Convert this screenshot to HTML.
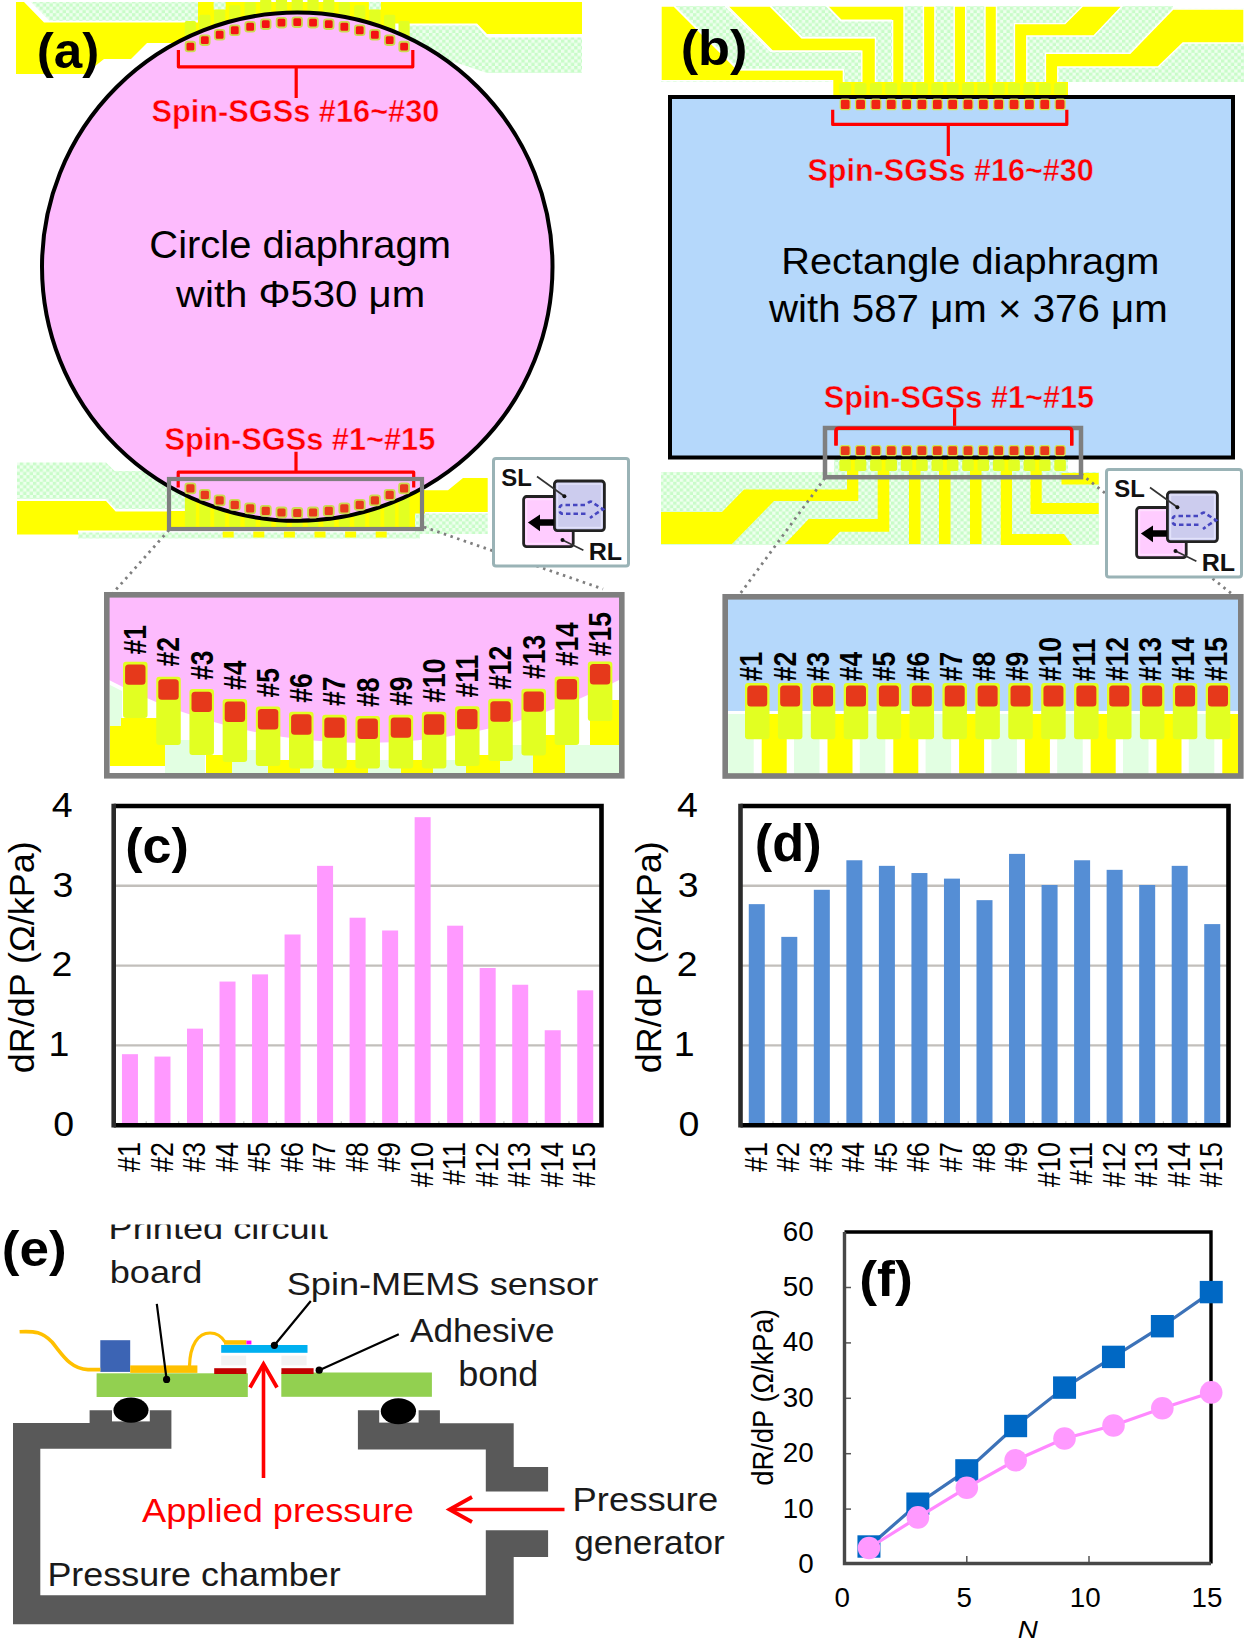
<!DOCTYPE html>
<html><head><meta charset="utf-8"><style>
html,body{margin:0;padding:0;background:#fff;overflow:hidden;width:1250px;height:1643px;}
svg{display:block;}
text{font-family:"Liberation Sans", sans-serif;}
</style></head><body>
<svg width="1250" height="1643" viewBox="0 0 1250 1643">
<rect width="1250" height="1643" fill="#fff"/>
<defs>
<pattern id="hatch" width="6.6" height="6.6" patternUnits="userSpaceOnUse"><rect width="6.6" height="6.6" fill="#EEFFEE"/><rect width="3.3" height="3.3" fill="#C8FCC8"/><rect x="3.3" y="3.3" width="3.3" height="3.3" fill="#C8FCC8"/></pattern>
</defs>
<polygon points="31.0,2.0 205.0,2.0 205.0,20.8 49.5,20.8" fill="url(#hatch)" />
<polygon points="16.0,2.0 24.0,2.0 44.0,22.5 186.0,22.5 186.0,43.0 147.0,43.0 131.0,59.0 104.0,59.0 85.0,74.0 16.0,74.0" fill="#FFFF00" />
<polygon points="198.0,2.0 392.0,2.0 392.0,45.0 186.0,45.0 186.0,22.5 198.0,22.5" fill="#FFFF00" />
<polygon points="392.0,2.0 582.0,2.0 582.0,34.0 487.0,34.0 477.0,23.4 392.0,23.4" fill="#FFFF00" />
<polygon points="405.0,25.5 476.0,25.5 487.0,37.5 582.0,37.5 582.0,73.0 487.0,73.0 456.0,62.4 405.0,62.4" fill="url(#hatch)" />
<polygon points="17.0,462.5 106.0,462.5 114.6,471.0 192.0,471.0 192.0,509.0 115.6,509.0 106.0,499.0 17.0,499.0" fill="url(#hatch)" />
<polygon points="17.0,501.0 106.0,501.0 115.6,511.4 185.0,511.4 185.0,530.6 78.0,530.6 78.0,534.5 17.0,534.5" fill="#FFFF00" />
<polygon points="78.0,532.5 420.0,532.5 420.0,538.5 78.0,538.5" fill="url(#hatch)" />
<rect x="222.70" y="531.50" width="11.00" height="6.00" fill="#FFFF00" />
<rect x="253.30" y="531.50" width="11.00" height="6.00" fill="#FFFF00" />
<rect x="283.90" y="531.50" width="11.00" height="6.00" fill="#FFFF00" />
<rect x="314.50" y="531.50" width="11.00" height="6.00" fill="#FFFF00" />
<rect x="345.10" y="531.50" width="11.00" height="6.00" fill="#FFFF00" />
<rect x="375.70" y="531.50" width="11.00" height="6.00" fill="#FFFF00" />
<polygon points="192.0,490.0 425.0,490.0 425.0,531.0 170.0,531.0 170.0,511.0 192.0,511.0" fill="#FFFF00" />
<polygon points="415.0,490.3 448.0,490.3 463.0,478.0 487.7,478.0 487.7,512.0 415.0,512.0" fill="#FFFF00" />
<polygon points="415.0,513.5 487.7,513.5 487.7,534.0 415.0,534.0" fill="url(#hatch)" />
<rect x="184.80" y="20.93" width="11.2" height="18.00" rx="1.5" fill="#E2FF22"/>
<rect x="184.90" y="488.45" width="11" height="38.55" rx="1.5" fill="#E2FF22"/>
<rect x="198.83" y="2" width="12" height="12.84" fill="#FFFF00"/>
<rect x="199.23" y="14.84" width="11.2" height="18.00" rx="1.5" fill="#E2FF22"/>
<rect x="199.33" y="494.88" width="11" height="32.12" rx="1.5" fill="#E2FF22"/>
<rect x="213.64" y="2" width="12" height="7.63" fill="url(#hatch)"/>
<rect x="214.04" y="9.63" width="11.2" height="18.00" rx="1.5" fill="#E2FF22"/>
<rect x="214.14" y="500.37" width="11" height="26.63" rx="1.5" fill="#E2FF22"/>
<rect x="228.77" y="2" width="12" height="3.33" fill="#FFFF00"/>
<rect x="229.17" y="5.33" width="11.2" height="18.00" rx="1.5" fill="#E2FF22"/>
<rect x="229.27" y="504.89" width="11" height="22.11" rx="1.5" fill="#E2FF22"/>
<rect x="244.17" y="2" width="12" height="-0.04" fill="url(#hatch)"/>
<rect x="244.57" y="1.96" width="11.2" height="18.00" rx="1.5" fill="#E2FF22"/>
<rect x="244.67" y="508.43" width="11" height="18.57" rx="1.5" fill="#E2FF22"/>
<rect x="259.75" y="2" width="12" height="-2.46" fill="#FFFF00"/>
<rect x="260.15" y="-0.46" width="11.2" height="18.00" rx="1.5" fill="#E2FF22"/>
<rect x="260.25" y="510.96" width="11" height="16.04" rx="1.5" fill="#E2FF22"/>
<rect x="275.47" y="2" width="12" height="-3.91" fill="url(#hatch)"/>
<rect x="275.87" y="-1.91" width="11.2" height="18.00" rx="1.5" fill="#E2FF22"/>
<rect x="275.97" y="512.49" width="11" height="14.51" rx="1.5" fill="#E2FF22"/>
<rect x="291.25" y="2" width="12" height="-4.40" fill="#FFFF00"/>
<rect x="291.65" y="-2.40" width="11.2" height="18.00" rx="1.5" fill="#E2FF22"/>
<rect x="291.75" y="513.00" width="11" height="14.00" rx="1.5" fill="#E2FF22"/>
<rect x="307.03" y="2" width="12" height="-3.91" fill="url(#hatch)"/>
<rect x="307.43" y="-1.91" width="11.2" height="18.00" rx="1.5" fill="#E2FF22"/>
<rect x="307.53" y="512.49" width="11" height="14.51" rx="1.5" fill="#E2FF22"/>
<rect x="322.75" y="2" width="12" height="-2.46" fill="#FFFF00"/>
<rect x="323.15" y="-0.46" width="11.2" height="18.00" rx="1.5" fill="#E2FF22"/>
<rect x="323.25" y="510.96" width="11" height="16.04" rx="1.5" fill="#E2FF22"/>
<rect x="338.33" y="2" width="12" height="-0.04" fill="url(#hatch)"/>
<rect x="338.73" y="1.96" width="11.2" height="18.00" rx="1.5" fill="#E2FF22"/>
<rect x="338.83" y="508.43" width="11" height="18.57" rx="1.5" fill="#E2FF22"/>
<rect x="353.73" y="2" width="12" height="3.33" fill="#FFFF00"/>
<rect x="354.13" y="5.33" width="11.2" height="18.00" rx="1.5" fill="#E2FF22"/>
<rect x="354.23" y="504.89" width="11" height="22.11" rx="1.5" fill="#E2FF22"/>
<rect x="368.86" y="2" width="12" height="7.63" fill="url(#hatch)"/>
<rect x="369.26" y="9.63" width="11.2" height="18.00" rx="1.5" fill="#E2FF22"/>
<rect x="369.36" y="500.37" width="11" height="26.63" rx="1.5" fill="#E2FF22"/>
<rect x="383.67" y="2" width="12" height="12.84" fill="#FFFF00"/>
<rect x="384.07" y="14.84" width="11.2" height="18.00" rx="1.5" fill="#E2FF22"/>
<rect x="384.17" y="494.88" width="11" height="32.12" rx="1.5" fill="#E2FF22"/>
<rect x="398.50" y="20.93" width="11.2" height="18.00" rx="1.5" fill="#E2FF22"/>
<rect x="398.60" y="488.45" width="11" height="38.55" rx="1.5" fill="#E2FF22"/>
<ellipse cx="297.25" cy="266.7" rx="255.25" ry="254.1" fill="#FDBBFD" stroke="#000" stroke-width="4.0"/>
<rect x="185.60" y="41.77" width="9.6" height="9.6" rx="2.4" fill="#F41212" stroke="#CCDC50" stroke-width="1.8"/>
<rect x="185.40" y="483.45" width="10" height="10" rx="2.4" fill="#E83A1C" stroke="#CCDC50" stroke-width="1.8"/>
<rect x="200.03" y="35.39" width="9.6" height="9.6" rx="2.4" fill="#F41212" stroke="#CCDC50" stroke-width="1.8"/>
<rect x="199.83" y="489.88" width="10" height="10" rx="2.4" fill="#E83A1C" stroke="#CCDC50" stroke-width="1.8"/>
<rect x="214.84" y="29.94" width="9.6" height="9.6" rx="2.4" fill="#F41212" stroke="#CCDC50" stroke-width="1.8"/>
<rect x="214.64" y="495.37" width="10" height="10" rx="2.4" fill="#E83A1C" stroke="#CCDC50" stroke-width="1.8"/>
<rect x="229.97" y="25.45" width="9.6" height="9.6" rx="2.4" fill="#F41212" stroke="#CCDC50" stroke-width="1.8"/>
<rect x="229.77" y="499.89" width="10" height="10" rx="2.4" fill="#E83A1C" stroke="#CCDC50" stroke-width="1.8"/>
<rect x="245.37" y="21.94" width="9.6" height="9.6" rx="2.4" fill="#F41212" stroke="#CCDC50" stroke-width="1.8"/>
<rect x="245.17" y="503.43" width="10" height="10" rx="2.4" fill="#E83A1C" stroke="#CCDC50" stroke-width="1.8"/>
<rect x="260.95" y="19.42" width="9.6" height="9.6" rx="2.4" fill="#F41212" stroke="#CCDC50" stroke-width="1.8"/>
<rect x="260.75" y="505.96" width="10" height="10" rx="2.4" fill="#E83A1C" stroke="#CCDC50" stroke-width="1.8"/>
<rect x="276.67" y="17.91" width="9.6" height="9.6" rx="2.4" fill="#F41212" stroke="#CCDC50" stroke-width="1.8"/>
<rect x="276.47" y="507.49" width="10" height="10" rx="2.4" fill="#E83A1C" stroke="#CCDC50" stroke-width="1.8"/>
<rect x="292.45" y="17.40" width="9.6" height="9.6" rx="2.4" fill="#F41212" stroke="#CCDC50" stroke-width="1.8"/>
<rect x="292.25" y="508.00" width="10" height="10" rx="2.4" fill="#E83A1C" stroke="#CCDC50" stroke-width="1.8"/>
<rect x="308.23" y="17.91" width="9.6" height="9.6" rx="2.4" fill="#F41212" stroke="#CCDC50" stroke-width="1.8"/>
<rect x="308.03" y="507.49" width="10" height="10" rx="2.4" fill="#E83A1C" stroke="#CCDC50" stroke-width="1.8"/>
<rect x="323.95" y="19.42" width="9.6" height="9.6" rx="2.4" fill="#F41212" stroke="#CCDC50" stroke-width="1.8"/>
<rect x="323.75" y="505.96" width="10" height="10" rx="2.4" fill="#E83A1C" stroke="#CCDC50" stroke-width="1.8"/>
<rect x="339.53" y="21.94" width="9.6" height="9.6" rx="2.4" fill="#F41212" stroke="#CCDC50" stroke-width="1.8"/>
<rect x="339.33" y="503.43" width="10" height="10" rx="2.4" fill="#E83A1C" stroke="#CCDC50" stroke-width="1.8"/>
<rect x="354.93" y="25.45" width="9.6" height="9.6" rx="2.4" fill="#F41212" stroke="#CCDC50" stroke-width="1.8"/>
<rect x="354.73" y="499.89" width="10" height="10" rx="2.4" fill="#E83A1C" stroke="#CCDC50" stroke-width="1.8"/>
<rect x="370.06" y="29.94" width="9.6" height="9.6" rx="2.4" fill="#F41212" stroke="#CCDC50" stroke-width="1.8"/>
<rect x="369.86" y="495.37" width="10" height="10" rx="2.4" fill="#E83A1C" stroke="#CCDC50" stroke-width="1.8"/>
<rect x="384.87" y="35.39" width="9.6" height="9.6" rx="2.4" fill="#F41212" stroke="#CCDC50" stroke-width="1.8"/>
<rect x="384.67" y="489.88" width="10" height="10" rx="2.4" fill="#E83A1C" stroke="#CCDC50" stroke-width="1.8"/>
<rect x="399.30" y="41.77" width="9.6" height="9.6" rx="2.4" fill="#F41212" stroke="#CCDC50" stroke-width="1.8"/>
<rect x="399.10" y="483.45" width="10" height="10" rx="2.4" fill="#E83A1C" stroke="#CCDC50" stroke-width="1.8"/>
<path d="M178.4,50 L178.4,66.8 L412.8,66.8 L412.8,50 M296.2,66.8 L296.2,98" fill="none" stroke="#FF0000" stroke-width="3.2" stroke-linejoin="round"/>
<path d="M178.2,487.5 L178.2,472.2 L413.7,472.2 L413.7,487.5 M296,472.2 L296,451.7" fill="none" stroke="#FF0000" stroke-width="3.2" stroke-linejoin="round"/>
<text transform="translate(151.44,121.69) scale(0.9611,0.9867)" text-anchor="start" font-size="32" font-weight="bold" font-style="normal" fill="#FF0000" stroke="#FDBBFD" stroke-width="0.5">Spin-SGSs #16~#30</text>
<text transform="translate(149.37,257.82) scale(1.0645,1.0229)" text-anchor="start" font-size="37.5" font-weight="normal" font-style="normal" fill="#000" >Circle diaphragm</text>
<text transform="translate(176.10,306.64) scale(1.0696,1.0088)" text-anchor="start" font-size="37.5" font-weight="normal" font-style="normal" fill="#000" >with &#934;530 &#956;m</text>
<text transform="translate(164.44,450.33) scale(0.9614,0.9667)" text-anchor="start" font-size="32" font-weight="bold" font-style="normal" fill="#FF0000" stroke="#FDBBFD" stroke-width="0.5">Spin-SGSs #1~#15</text>
<text transform="translate(36.83,68.05) scale(1.0232,1.0152)" text-anchor="start" font-size="50" font-weight="bold" font-style="normal" fill="#000" >(a)</text>
<rect x="169" y="479" width="253" height="50" fill="none" stroke="#7F7F7F" stroke-width="4.2"/>
<path d="M169,530 L113,593 M424,527 L603,589" stroke="#7F7F7F" stroke-width="2.8" stroke-dasharray="2.5 4.5" fill="none"/>
<g transform="translate(492,457)">
<rect x="1.5" y="1.5" width="135" height="107.5" rx="2.5" fill="#fff" stroke="#9AB3B6" stroke-width="3"/>
<rect x="31.6" y="39.5" width="49.6" height="50.1" rx="3" fill="#FFCCFF" stroke="#222" stroke-width="2.8"/>
<rect x="34.5" y="42.5" width="44" height="44" fill="none" stroke="#FFE0FF" stroke-width="1.4"/>
<rect x="62.4" y="24" width="50" height="49.6" rx="3" fill="#CCCCEE" stroke="#222" stroke-width="2.8"/>
<rect x="65.5" y="27" width="44" height="43.5" fill="none" stroke="#E2E2FA" stroke-width="1.4"/>
<path d="M35.9,65.5 L48,57.5 L48,62.3 L61.8,62.3 L61.8,68.7 L48,68.7 L48,74.2 Z" fill="#000"/>
<path d="M93,48 L71,48 Q67.5,48 67.5,52.4 Q67.5,56.8 71,56.8 L95,56.8" fill="none" stroke="#4646C0" stroke-width="2.6" stroke-dasharray="4.5 3"/>
<path d="M96,46 Q99,43 102,46.5 L111,52.2 L103.5,57 L98,61" fill="none" stroke="#4646C0" stroke-width="2.6" stroke-dasharray="4.5 3"/>
<path d="M45,19.5 L72.4,39.3" stroke="#333" stroke-width="1.7"/><circle cx="72.4" cy="39.3" r="2" fill="#111"/>
<path d="M70.5,83 L91.4,93.2" stroke="#333" stroke-width="1.7"/><circle cx="70.5" cy="83" r="2" fill="#111"/>
<text transform="translate(9.20,28.70) scale(0.9966,1.0235)" text-anchor="start" font-size="24" font-weight="bold" font-style="normal" fill="#111" >SL</text>
<text transform="translate(96.72,103.00) scale(1.0414,1.0059)" text-anchor="start" font-size="24" font-weight="bold" font-style="normal" fill="#111" >RL</text>
</g>
<clipPath id="zA"><rect x="106.5" y="594.5" width="515.5" height="181.5"/></clipPath>
<g clip-path="url(#zA)">
<rect x="104.00" y="690.00" width="522.00" height="90.00" fill="#fff" />
<rect x="110.00" y="726.00" width="55.00" height="40.00" fill="#FFFF00" />
<rect x="110.00" y="680.00" width="12.00" height="46.00" fill="#E2FFE2" />
<rect x="165.00" y="740.00" width="40.00" height="35.00" fill="#E2FFE2" />
<rect x="206.00" y="755.00" width="26.00" height="20.00" fill="#FFFF00" />
<rect x="232.00" y="750.00" width="36.00" height="25.00" fill="#E2FFE2" />
<rect x="268.00" y="760.00" width="32.00" height="15.00" fill="#FFFF00" />
<rect x="300.00" y="760.00" width="34.00" height="15.00" fill="#E2FFE2" />
<rect x="334.00" y="760.00" width="34.00" height="15.00" fill="#FFFF00" />
<rect x="368.00" y="760.00" width="33.00" height="15.00" fill="#E2FFE2" />
<rect x="401.00" y="760.00" width="32.00" height="15.00" fill="#FFFF00" />
<rect x="433.00" y="760.00" width="33.00" height="15.00" fill="#E2FFE2" />
<rect x="466.00" y="755.00" width="34.00" height="20.00" fill="#FFFF00" />
<rect x="500.00" y="745.00" width="33.00" height="30.00" fill="#E2FFE2" />
<rect x="533.00" y="735.00" width="34.00" height="40.00" fill="#FFFF00" />
<rect x="565.00" y="745.00" width="55.00" height="30.00" fill="#E2FFE2" />
<rect x="590.00" y="700.00" width="30.00" height="45.00" fill="#FFFF00" />
<rect x="121.00" y="718.00" width="45.00" height="10.00" fill="#FFFF00" />
<circle cx="364" cy="195" r="552" fill="#fff"/>
<circle cx="364" cy="195" r="548" fill="#FDBBFD"/>
<rect x="123.05" y="661.81" width="24.5" height="56.19" rx="3" fill="#E2FF22"/>
<rect x="125.10" y="664.41" width="20.4" height="20.4" rx="3.5" fill="#E6391B"/>
<text transform="translate(146.25,654.53) scale(1.2167,1.0190) rotate(-90)" text-anchor="start" font-size="26" font-weight="bold" font-style="normal" fill="#000" >#1</text>
<rect x="156.25" y="676.76" width="24.5" height="68.24" rx="3" fill="#E2FF22"/>
<rect x="158.30" y="679.36" width="20.4" height="20.4" rx="3.5" fill="#E6391B"/>
<text transform="translate(179.45,666.58) scale(1.2167,1.0190) rotate(-90)" text-anchor="start" font-size="26" font-weight="bold" font-style="normal" fill="#000" >#2</text>
<rect x="189.45" y="689.07" width="24.5" height="65.93" rx="3" fill="#E2FF22"/>
<rect x="191.50" y="691.67" width="20.4" height="20.4" rx="3.5" fill="#E6391B"/>
<text transform="translate(212.65,679.98) scale(1.2167,1.0190) rotate(-90)" text-anchor="start" font-size="26" font-weight="bold" font-style="normal" fill="#000" >#3</text>
<rect x="222.65" y="698.90" width="24.5" height="63.10" rx="3" fill="#E2FF22"/>
<rect x="224.70" y="701.50" width="20.4" height="20.4" rx="3.5" fill="#E6391B"/>
<text transform="translate(245.85,690.02) scale(1.2167,1.0190) rotate(-90)" text-anchor="start" font-size="26" font-weight="bold" font-style="normal" fill="#000" >#4</text>
<rect x="255.85" y="706.42" width="24.5" height="59.58" rx="3" fill="#E2FF22"/>
<rect x="257.90" y="709.02" width="20.4" height="20.4" rx="3.5" fill="#E6391B"/>
<text transform="translate(279.05,697.54) scale(1.2167,1.0190) rotate(-90)" text-anchor="start" font-size="26" font-weight="bold" font-style="normal" fill="#000" >#5</text>
<rect x="289.05" y="711.72" width="24.5" height="56.78" rx="3" fill="#E2FF22"/>
<rect x="291.10" y="714.32" width="20.4" height="20.4" rx="3.5" fill="#E6391B"/>
<text transform="translate(312.25,702.84) scale(1.2167,1.0190) rotate(-90)" text-anchor="start" font-size="26" font-weight="bold" font-style="normal" fill="#000" >#6</text>
<rect x="322.25" y="714.87" width="24.5" height="53.63" rx="3" fill="#E2FF22"/>
<rect x="324.30" y="717.47" width="20.4" height="20.4" rx="3.5" fill="#E6391B"/>
<text transform="translate(345.45,705.99) scale(1.2167,1.0190) rotate(-90)" text-anchor="start" font-size="26" font-weight="bold" font-style="normal" fill="#000" >#7</text>
<rect x="355.45" y="715.90" width="24.5" height="52.60" rx="3" fill="#E2FF22"/>
<rect x="357.50" y="718.50" width="20.4" height="20.4" rx="3.5" fill="#E6391B"/>
<text transform="translate(378.65,707.02) scale(1.2167,1.0190) rotate(-90)" text-anchor="start" font-size="26" font-weight="bold" font-style="normal" fill="#000" >#8</text>
<rect x="388.65" y="714.83" width="24.5" height="53.67" rx="3" fill="#E2FF22"/>
<rect x="390.70" y="717.43" width="20.4" height="20.4" rx="3.5" fill="#E6391B"/>
<text transform="translate(411.85,705.95) scale(1.2167,1.0190) rotate(-90)" text-anchor="start" font-size="26" font-weight="bold" font-style="normal" fill="#000" >#9</text>
<rect x="421.85" y="711.65" width="24.5" height="56.85" rx="3" fill="#E2FF22"/>
<rect x="423.90" y="714.25" width="20.4" height="20.4" rx="3.5" fill="#E6391B"/>
<text transform="translate(445.05,702.76) scale(1.2167,1.0190) rotate(-90)" text-anchor="start" font-size="26" font-weight="bold" font-style="normal" fill="#000" >#10</text>
<rect x="455.05" y="706.31" width="24.5" height="59.69" rx="3" fill="#E2FF22"/>
<rect x="457.10" y="708.91" width="20.4" height="20.4" rx="3.5" fill="#E6391B"/>
<text transform="translate(478.25,697.43) scale(1.2167,1.0190) rotate(-90)" text-anchor="start" font-size="26" font-weight="bold" font-style="normal" fill="#000" >#11</text>
<rect x="488.25" y="698.75" width="24.5" height="62.25" rx="3" fill="#E2FF22"/>
<rect x="490.30" y="701.35" width="20.4" height="20.4" rx="3.5" fill="#E6391B"/>
<text transform="translate(511.45,689.87) scale(1.2167,1.0190) rotate(-90)" text-anchor="start" font-size="26" font-weight="bold" font-style="normal" fill="#000" >#12</text>
<rect x="521.45" y="688.87" width="24.5" height="66.63" rx="3" fill="#E2FF22"/>
<rect x="523.50" y="691.47" width="20.4" height="20.4" rx="3.5" fill="#E6391B"/>
<text transform="translate(544.65,678.98) scale(1.2167,1.0190) rotate(-90)" text-anchor="start" font-size="26" font-weight="bold" font-style="normal" fill="#000" >#13</text>
<rect x="554.65" y="676.52" width="24.5" height="68.48" rx="3" fill="#E2FF22"/>
<rect x="556.70" y="679.12" width="20.4" height="20.4" rx="3.5" fill="#E6391B"/>
<text transform="translate(577.85,666.34) scale(1.2167,1.0190) rotate(-90)" text-anchor="start" font-size="26" font-weight="bold" font-style="normal" fill="#000" >#14</text>
<rect x="587.85" y="661.51" width="24.5" height="59.49" rx="3" fill="#E2FF22"/>
<rect x="589.90" y="664.11" width="20.4" height="20.4" rx="3.5" fill="#E6391B"/>
<text transform="translate(611.05,656.13) scale(1.2167,1.0190) rotate(-90)" text-anchor="start" font-size="26" font-weight="bold" font-style="normal" fill="#000" >#15</text>
</g>
<rect x="106.8" y="594.8" width="515" height="181" fill="none" stroke="#7F7F7F" stroke-width="5.6"/>
<polygon points="661.0,6.0 1244.0,6.0 1244.0,82.0 661.0,82.0" fill="url(#hatch)" />
<polygon points="1173.0,6.0 1244.0,6.0 1244.0,8.5 1173.0,8.5" fill="#fff" />
<polygon points="661.0,6.0 674.2,6.0 737.8,69.6 843.4,69.6 843.4,96.0 832.6,96.0 832.6,80.8 661.0,80.8" fill="#FFFF00" stroke="#fff" stroke-width="1.4"/>
<polygon points="727.4,6.0 770.2,6.0 801.8,37.6 875.5,37.6 875.5,83.0 861.8,83.0 861.8,51.2 772.6,51.2" fill="#FFFF00" stroke="#fff" stroke-width="1.4"/>
<polygon points="826.6,6.0 904.0,6.0 904.0,83.0 892.6,83.0 892.6,20.8 840.6,20.8" fill="#FFFF00" stroke="#fff" stroke-width="1.4"/>
<polygon points="923.4,6.0 934.9,6.0 934.9,83.0 923.4,83.0" fill="#FFFF00" stroke="#fff" stroke-width="1.4"/>
<polygon points="954.2,6.0 965.7,6.0 965.7,83.0 954.2,83.0" fill="#FFFF00" stroke="#fff" stroke-width="1.4"/>
<polygon points="985.0,6.0 996.5,6.0 996.5,83.0 985.0,83.0" fill="#FFFF00" stroke="#fff" stroke-width="1.4"/>
<polygon points="1014.4,84.0 1014.4,23.6 1065.0,23.6 1082.6,6.0 1122.3,6.0 1093.8,36.0 1026.8,36.0 1026.8,84.0" fill="#FFFF00" stroke="#fff" stroke-width="1.4"/>
<polygon points="1045.4,84.0 1045.4,53.3 1130.0,53.3 1173.0,9.0 1244.0,9.0 1244.0,43.0 1183.0,43.0 1158.0,67.0 1057.8,67.0 1057.8,84.0" fill="#FFFF00" stroke="#fff" stroke-width="1.4"/>
<path d="M674.2,6 L737.8,69.6 L843.4,69.6 M725.4,6 L770.6,51.2 L861.4,51.2 M770.2,6 L801.8,37.6 L875.5,37.6 M827,6 L841,20.2 L891.8,20.2" fill="none" stroke="#fff" stroke-width="1.6"/>
<polygon points="661.0,472.0 1099.0,472.0 1099.0,545.0 661.0,545.0" fill="url(#hatch)" />
<rect x="834.00" y="458.00" width="234.00" height="17.00" fill="url(#hatch)" />
<polygon points="661.0,512.0 722.0,512.0 744.0,489.6 847.0,489.6 847.0,459.0 858.3,459.0 858.3,501.0 774.0,501.0 732.0,544.0 661.0,544.0" fill="#FFFF00" />
<polygon points="877.7,459.0 889.3,459.0 889.3,531.8 840.0,531.8 828.0,544.0 785.0,544.0 808.7,519.0 877.7,519.0" fill="#FFFF00" />
<polygon points="909.0,459.0 920.5,459.0 920.5,544.0 909.0,544.0" fill="#FFFF00" />
<polygon points="939.0,459.0 950.5,459.0 950.5,544.0 939.0,544.0" fill="#FFFF00" />
<polygon points="970.0,459.0 981.5,459.0 981.5,544.0 970.0,544.0" fill="#FFFF00" />
<polygon points="1000.8,459.0 1012.0,459.0 1012.0,534.0 1064.0,534.0 1072.0,545.0 1000.8,545.0" fill="#FFFF00" />
<polygon points="1030.5,459.0 1041.7,459.0 1041.7,503.0 1098.7,503.0 1098.7,514.0 1030.5,514.0" fill="#FFFF00" />
<polygon points="1061.5,473.0 1098.7,473.0 1098.7,484.4 1061.5,484.4" fill="#FFFF00" />
<polygon points="661.0,472.0 830.0,472.0 830.0,476.0 661.0,476.0" fill="url(#hatch)" />
<rect x="670" y="97" width="563" height="360.5" fill="#B5D8FB" stroke="#000" stroke-width="4"/>
<rect x="834.00" y="82.00" width="234.00" height="13.00" fill="#FFFF00" />
<rect x="839.20" y="83" width="12" height="11.6" rx="1.8" fill="#E2FF22"/>
<rect x="840.20" y="99.2" width="10" height="10.4" rx="2.2" fill="#F02414" stroke="#D4E850" stroke-width="1.2"/>
<rect x="839.40" y="459.6" width="11.6" height="11.4" rx="1.8" fill="#E2FF22"/>
<rect x="840.20" y="445.6" width="10" height="10" rx="2.2" fill="#E83A1C" stroke="#D4E850" stroke-width="1.2"/>
<rect x="854.55" y="83" width="12" height="11.6" rx="1.8" fill="#E2FF22"/>
<rect x="855.55" y="99.2" width="10" height="10.4" rx="2.2" fill="#F02414" stroke="#D4E850" stroke-width="1.2"/>
<rect x="854.75" y="459.6" width="11.6" height="11.4" rx="1.8" fill="#E2FF22"/>
<rect x="855.55" y="445.6" width="10" height="10" rx="2.2" fill="#E83A1C" stroke="#D4E850" stroke-width="1.2"/>
<rect x="869.90" y="83" width="12" height="11.6" rx="1.8" fill="#E2FF22"/>
<rect x="870.90" y="99.2" width="10" height="10.4" rx="2.2" fill="#F02414" stroke="#D4E850" stroke-width="1.2"/>
<rect x="870.10" y="459.6" width="11.6" height="11.4" rx="1.8" fill="#E2FF22"/>
<rect x="870.90" y="445.6" width="10" height="10" rx="2.2" fill="#E83A1C" stroke="#D4E850" stroke-width="1.2"/>
<rect x="885.25" y="83" width="12" height="11.6" rx="1.8" fill="#E2FF22"/>
<rect x="886.25" y="99.2" width="10" height="10.4" rx="2.2" fill="#F02414" stroke="#D4E850" stroke-width="1.2"/>
<rect x="885.45" y="459.6" width="11.6" height="11.4" rx="1.8" fill="#E2FF22"/>
<rect x="886.25" y="445.6" width="10" height="10" rx="2.2" fill="#E83A1C" stroke="#D4E850" stroke-width="1.2"/>
<rect x="900.60" y="83" width="12" height="11.6" rx="1.8" fill="#E2FF22"/>
<rect x="901.60" y="99.2" width="10" height="10.4" rx="2.2" fill="#F02414" stroke="#D4E850" stroke-width="1.2"/>
<rect x="900.80" y="459.6" width="11.6" height="11.4" rx="1.8" fill="#E2FF22"/>
<rect x="901.60" y="445.6" width="10" height="10" rx="2.2" fill="#E83A1C" stroke="#D4E850" stroke-width="1.2"/>
<rect x="915.95" y="83" width="12" height="11.6" rx="1.8" fill="#E2FF22"/>
<rect x="916.95" y="99.2" width="10" height="10.4" rx="2.2" fill="#F02414" stroke="#D4E850" stroke-width="1.2"/>
<rect x="916.15" y="459.6" width="11.6" height="11.4" rx="1.8" fill="#E2FF22"/>
<rect x="916.95" y="445.6" width="10" height="10" rx="2.2" fill="#E83A1C" stroke="#D4E850" stroke-width="1.2"/>
<rect x="931.30" y="83" width="12" height="11.6" rx="1.8" fill="#E2FF22"/>
<rect x="932.30" y="99.2" width="10" height="10.4" rx="2.2" fill="#F02414" stroke="#D4E850" stroke-width="1.2"/>
<rect x="931.50" y="459.6" width="11.6" height="11.4" rx="1.8" fill="#E2FF22"/>
<rect x="932.30" y="445.6" width="10" height="10" rx="2.2" fill="#E83A1C" stroke="#D4E850" stroke-width="1.2"/>
<rect x="946.65" y="83" width="12" height="11.6" rx="1.8" fill="#E2FF22"/>
<rect x="947.65" y="99.2" width="10" height="10.4" rx="2.2" fill="#F02414" stroke="#D4E850" stroke-width="1.2"/>
<rect x="946.85" y="459.6" width="11.6" height="11.4" rx="1.8" fill="#E2FF22"/>
<rect x="947.65" y="445.6" width="10" height="10" rx="2.2" fill="#E83A1C" stroke="#D4E850" stroke-width="1.2"/>
<rect x="962.00" y="83" width="12" height="11.6" rx="1.8" fill="#E2FF22"/>
<rect x="963.00" y="99.2" width="10" height="10.4" rx="2.2" fill="#F02414" stroke="#D4E850" stroke-width="1.2"/>
<rect x="962.20" y="459.6" width="11.6" height="11.4" rx="1.8" fill="#E2FF22"/>
<rect x="963.00" y="445.6" width="10" height="10" rx="2.2" fill="#E83A1C" stroke="#D4E850" stroke-width="1.2"/>
<rect x="977.35" y="83" width="12" height="11.6" rx="1.8" fill="#E2FF22"/>
<rect x="978.35" y="99.2" width="10" height="10.4" rx="2.2" fill="#F02414" stroke="#D4E850" stroke-width="1.2"/>
<rect x="977.55" y="459.6" width="11.6" height="11.4" rx="1.8" fill="#E2FF22"/>
<rect x="978.35" y="445.6" width="10" height="10" rx="2.2" fill="#E83A1C" stroke="#D4E850" stroke-width="1.2"/>
<rect x="992.70" y="83" width="12" height="11.6" rx="1.8" fill="#E2FF22"/>
<rect x="993.70" y="99.2" width="10" height="10.4" rx="2.2" fill="#F02414" stroke="#D4E850" stroke-width="1.2"/>
<rect x="992.90" y="459.6" width="11.6" height="11.4" rx="1.8" fill="#E2FF22"/>
<rect x="993.70" y="445.6" width="10" height="10" rx="2.2" fill="#E83A1C" stroke="#D4E850" stroke-width="1.2"/>
<rect x="1008.05" y="83" width="12" height="11.6" rx="1.8" fill="#E2FF22"/>
<rect x="1009.05" y="99.2" width="10" height="10.4" rx="2.2" fill="#F02414" stroke="#D4E850" stroke-width="1.2"/>
<rect x="1008.25" y="459.6" width="11.6" height="11.4" rx="1.8" fill="#E2FF22"/>
<rect x="1009.05" y="445.6" width="10" height="10" rx="2.2" fill="#E83A1C" stroke="#D4E850" stroke-width="1.2"/>
<rect x="1023.40" y="83" width="12" height="11.6" rx="1.8" fill="#E2FF22"/>
<rect x="1024.40" y="99.2" width="10" height="10.4" rx="2.2" fill="#F02414" stroke="#D4E850" stroke-width="1.2"/>
<rect x="1023.60" y="459.6" width="11.6" height="11.4" rx="1.8" fill="#E2FF22"/>
<rect x="1024.40" y="445.6" width="10" height="10" rx="2.2" fill="#E83A1C" stroke="#D4E850" stroke-width="1.2"/>
<rect x="1038.75" y="83" width="12" height="11.6" rx="1.8" fill="#E2FF22"/>
<rect x="1039.75" y="99.2" width="10" height="10.4" rx="2.2" fill="#F02414" stroke="#D4E850" stroke-width="1.2"/>
<rect x="1038.95" y="459.6" width="11.6" height="11.4" rx="1.8" fill="#E2FF22"/>
<rect x="1039.75" y="445.6" width="10" height="10" rx="2.2" fill="#E83A1C" stroke="#D4E850" stroke-width="1.2"/>
<rect x="1054.10" y="83" width="12" height="11.6" rx="1.8" fill="#E2FF22"/>
<rect x="1055.10" y="99.2" width="10" height="10.4" rx="2.2" fill="#F02414" stroke="#D4E850" stroke-width="1.2"/>
<rect x="1054.30" y="459.6" width="11.6" height="11.4" rx="1.8" fill="#E2FF22"/>
<rect x="1055.10" y="445.6" width="10" height="10" rx="2.2" fill="#E83A1C" stroke="#D4E850" stroke-width="1.2"/>
<path d="M832.7,109.8 L832.7,124.4 L1066.8,124.4 L1066.8,109.8 M948.3,124.4 L948.3,156" fill="none" stroke="#FF0000" stroke-width="3.2" stroke-linejoin="round"/>
<path d="M836,445.4 L836,428.3 L1071.7,428.3 L1071.7,445.4 M954.6,428.3 L954.6,406.3" fill="none" stroke="#FF0000" stroke-width="3.2" stroke-linejoin="round"/>
<text transform="translate(807.44,181.02) scale(0.9560,0.9833)" text-anchor="start" font-size="32" font-weight="bold" font-style="normal" fill="#FF0000" stroke="#B5D8FB" stroke-width="0.5">Spin-SGSs #16~#30</text>
<text transform="translate(823.74,408.33) scale(0.9596,0.9667)" text-anchor="start" font-size="32" font-weight="bold" font-style="normal" fill="#FF0000" stroke="#B5D8FB" stroke-width="0.5">Spin-SGSs #1~#15</text>
<text transform="translate(781.26,273.58) scale(1.0472,0.9778)" text-anchor="start" font-size="38" font-weight="normal" font-style="normal" fill="#000" >Rectangle diaphragm</text>
<text transform="translate(769.00,322.36) scale(1.0594,1.0057)" text-anchor="start" font-size="38" font-weight="normal" font-style="normal" fill="#000" >with 587 &#956;m &#215; 376 &#956;m</text>
<text transform="translate(680.66,65.29) scale(1.0483,0.9913)" text-anchor="start" font-size="50" font-weight="bold" font-style="normal" fill="#000" >(b)</text>
<rect x="825" y="428" width="256" height="49.2" fill="none" stroke="#7F7F7F" stroke-width="4.5"/>
<path d="M836,445.4 L836,431 Q836,428.3 839,428.3 L1068.7,428.3 Q1071.7,428.3 1071.7,431 L1071.7,445.4" fill="none" stroke="#FF0000" stroke-width="3.4" stroke-linejoin="round"/>
<path d="M825,478 L740,594 M1081,474 L1232,594" stroke="#7F7F7F" stroke-width="2.8" stroke-dasharray="2.5 4.5" fill="none"/>
<g transform="translate(1105,468)">
<rect x="1.5" y="1.5" width="135" height="107.5" rx="2.5" fill="#fff" stroke="#9AB3B6" stroke-width="3"/>
<rect x="31.6" y="39.5" width="49.6" height="50.1" rx="3" fill="#FFCCFF" stroke="#222" stroke-width="2.8"/>
<rect x="34.5" y="42.5" width="44" height="44" fill="none" stroke="#FFE0FF" stroke-width="1.4"/>
<rect x="62.4" y="24" width="50" height="49.6" rx="3" fill="#CCCCEE" stroke="#222" stroke-width="2.8"/>
<rect x="65.5" y="27" width="44" height="43.5" fill="none" stroke="#E2E2FA" stroke-width="1.4"/>
<path d="M35.9,65.5 L48,57.5 L48,62.3 L61.8,62.3 L61.8,68.7 L48,68.7 L48,74.2 Z" fill="#000"/>
<path d="M93,48 L71,48 Q67.5,48 67.5,52.4 Q67.5,56.8 71,56.8 L95,56.8" fill="none" stroke="#4646C0" stroke-width="2.6" stroke-dasharray="4.5 3"/>
<path d="M96,46 Q99,43 102,46.5 L111,52.2 L103.5,57 L98,61" fill="none" stroke="#4646C0" stroke-width="2.6" stroke-dasharray="4.5 3"/>
<path d="M45,19.5 L72.4,39.3" stroke="#333" stroke-width="1.7"/><circle cx="72.4" cy="39.3" r="2" fill="#111"/>
<path d="M70.5,83 L91.4,93.2" stroke="#333" stroke-width="1.7"/><circle cx="70.5" cy="83" r="2" fill="#111"/>
<text transform="translate(9.20,28.70) scale(0.9966,1.0235)" text-anchor="start" font-size="24" font-weight="bold" font-style="normal" fill="#111" >SL</text>
<text transform="translate(96.72,103.00) scale(1.0414,1.0059)" text-anchor="start" font-size="24" font-weight="bold" font-style="normal" fill="#111" >RL</text>
</g>
<clipPath id="zB"><rect x="725" y="596.5" width="516" height="179.5"/></clipPath>
<g clip-path="url(#zB)">
<rect x="722.00" y="594.00" width="524.00" height="120.00" fill="#B5D8FB" />
<rect x="722.00" y="711.00" width="524.00" height="3.00" fill="#fff" />
<rect x="722.00" y="714.00" width="524.00" height="62.00" fill="#fff" />
<rect x="728.20" y="714.00" width="25.50" height="62.00" fill="#E2FFE2" />
<rect x="761.70" y="714.00" width="25.00" height="62.00" fill="#FFFF00" />
<rect x="794.00" y="714.00" width="25.50" height="62.00" fill="#E2FFE2" />
<rect x="827.50" y="714.00" width="25.00" height="62.00" fill="#FFFF00" />
<rect x="859.80" y="714.00" width="25.50" height="62.00" fill="#E2FFE2" />
<rect x="893.30" y="714.00" width="25.00" height="62.00" fill="#FFFF00" />
<rect x="925.60" y="714.00" width="25.50" height="62.00" fill="#E2FFE2" />
<rect x="959.10" y="714.00" width="25.00" height="62.00" fill="#FFFF00" />
<rect x="991.40" y="714.00" width="25.50" height="62.00" fill="#E2FFE2" />
<rect x="1024.90" y="714.00" width="25.00" height="62.00" fill="#FFFF00" />
<rect x="1057.20" y="714.00" width="25.50" height="62.00" fill="#E2FFE2" />
<rect x="1090.70" y="714.00" width="25.00" height="62.00" fill="#FFFF00" />
<rect x="1123.00" y="714.00" width="25.50" height="62.00" fill="#E2FFE2" />
<rect x="1156.50" y="714.00" width="25.00" height="62.00" fill="#FFFF00" />
<rect x="1188.80" y="714.00" width="25.50" height="62.00" fill="#E2FFE2" />
<rect x="1222.30" y="714.00" width="25.00" height="62.00" fill="#FFFF00" />
<rect x="745.00" y="683" width="24.5" height="56.2" rx="3" fill="#E2FF22"/>
<rect x="747.25" y="685.5" width="20" height="21" rx="3.5" fill="#E6391B"/>
<text transform="translate(762.40,681.22) scale(1.2111,1.0214) rotate(-90)" text-anchor="start" font-size="26" font-weight="bold" font-style="normal" fill="#000" >#1</text>
<rect x="777.91" y="683" width="24.5" height="56.2" rx="3" fill="#E2FF22"/>
<rect x="780.16" y="685.5" width="20" height="21" rx="3.5" fill="#E6391B"/>
<text transform="translate(795.62,681.22) scale(1.2111,1.0214) rotate(-90)" text-anchor="start" font-size="26" font-weight="bold" font-style="normal" fill="#000" >#2</text>
<rect x="810.82" y="683" width="24.5" height="56.2" rx="3" fill="#E2FF22"/>
<rect x="813.07" y="685.5" width="20" height="21" rx="3.5" fill="#E6391B"/>
<text transform="translate(828.84,681.22) scale(1.2111,1.0214) rotate(-90)" text-anchor="start" font-size="26" font-weight="bold" font-style="normal" fill="#000" >#3</text>
<rect x="843.73" y="683" width="24.5" height="56.2" rx="3" fill="#E2FF22"/>
<rect x="845.98" y="685.5" width="20" height="21" rx="3.5" fill="#E6391B"/>
<text transform="translate(862.06,681.22) scale(1.2111,1.0214) rotate(-90)" text-anchor="start" font-size="26" font-weight="bold" font-style="normal" fill="#000" >#4</text>
<rect x="876.64" y="683" width="24.5" height="56.2" rx="3" fill="#E2FF22"/>
<rect x="878.89" y="685.5" width="20" height="21" rx="3.5" fill="#E6391B"/>
<text transform="translate(895.28,681.22) scale(1.2111,1.0214) rotate(-90)" text-anchor="start" font-size="26" font-weight="bold" font-style="normal" fill="#000" >#5</text>
<rect x="909.55" y="683" width="24.5" height="56.2" rx="3" fill="#E2FF22"/>
<rect x="911.80" y="685.5" width="20" height="21" rx="3.5" fill="#E6391B"/>
<text transform="translate(928.50,681.22) scale(1.2111,1.0214) rotate(-90)" text-anchor="start" font-size="26" font-weight="bold" font-style="normal" fill="#000" >#6</text>
<rect x="942.46" y="683" width="24.5" height="56.2" rx="3" fill="#E2FF22"/>
<rect x="944.71" y="685.5" width="20" height="21" rx="3.5" fill="#E6391B"/>
<text transform="translate(961.72,681.22) scale(1.2111,1.0214) rotate(-90)" text-anchor="start" font-size="26" font-weight="bold" font-style="normal" fill="#000" >#7</text>
<rect x="975.37" y="683" width="24.5" height="56.2" rx="3" fill="#E2FF22"/>
<rect x="977.62" y="685.5" width="20" height="21" rx="3.5" fill="#E6391B"/>
<text transform="translate(994.94,681.22) scale(1.2111,1.0214) rotate(-90)" text-anchor="start" font-size="26" font-weight="bold" font-style="normal" fill="#000" >#8</text>
<rect x="1008.28" y="683" width="24.5" height="56.2" rx="3" fill="#E2FF22"/>
<rect x="1010.53" y="685.5" width="20" height="21" rx="3.5" fill="#E6391B"/>
<text transform="translate(1028.16,681.22) scale(1.2111,1.0214) rotate(-90)" text-anchor="start" font-size="26" font-weight="bold" font-style="normal" fill="#000" >#9</text>
<rect x="1041.19" y="683" width="24.5" height="56.2" rx="3" fill="#E2FF22"/>
<rect x="1043.44" y="685.5" width="20" height="21" rx="3.5" fill="#E6391B"/>
<text transform="translate(1061.38,681.22) scale(1.2111,1.0214) rotate(-90)" text-anchor="start" font-size="26" font-weight="bold" font-style="normal" fill="#000" >#10</text>
<rect x="1074.10" y="683" width="24.5" height="56.2" rx="3" fill="#E2FF22"/>
<rect x="1076.35" y="685.5" width="20" height="21" rx="3.5" fill="#E6391B"/>
<text transform="translate(1094.60,681.22) scale(1.2111,1.0214) rotate(-90)" text-anchor="start" font-size="26" font-weight="bold" font-style="normal" fill="#000" >#11</text>
<rect x="1107.01" y="683" width="24.5" height="56.2" rx="3" fill="#E2FF22"/>
<rect x="1109.26" y="685.5" width="20" height="21" rx="3.5" fill="#E6391B"/>
<text transform="translate(1127.82,681.22) scale(1.2111,1.0214) rotate(-90)" text-anchor="start" font-size="26" font-weight="bold" font-style="normal" fill="#000" >#12</text>
<rect x="1139.92" y="683" width="24.5" height="56.2" rx="3" fill="#E2FF22"/>
<rect x="1142.17" y="685.5" width="20" height="21" rx="3.5" fill="#E6391B"/>
<text transform="translate(1161.04,681.22) scale(1.2111,1.0214) rotate(-90)" text-anchor="start" font-size="26" font-weight="bold" font-style="normal" fill="#000" >#13</text>
<rect x="1172.83" y="683" width="24.5" height="56.2" rx="3" fill="#E2FF22"/>
<rect x="1175.08" y="685.5" width="20" height="21" rx="3.5" fill="#E6391B"/>
<text transform="translate(1194.26,681.22) scale(1.2111,1.0214) rotate(-90)" text-anchor="start" font-size="26" font-weight="bold" font-style="normal" fill="#000" >#14</text>
<rect x="1205.74" y="683" width="24.5" height="56.2" rx="3" fill="#E2FF22"/>
<rect x="1207.99" y="685.5" width="20" height="21" rx="3.5" fill="#E6391B"/>
<text transform="translate(1227.48,681.22) scale(1.2111,1.0214) rotate(-90)" text-anchor="start" font-size="26" font-weight="bold" font-style="normal" fill="#000" >#15</text>
</g>
<rect x="725.2" y="596.8" width="515.6" height="179.2" fill="none" stroke="#7F7F7F" stroke-width="5.6"/>
<line x1="113.7" y1="1045.4" x2="601.5" y2="1045.4" stroke="#C2BFBB" stroke-width="2.4"/>
<line x1="113.7" y1="965.6" x2="601.5" y2="965.6" stroke="#C2BFBB" stroke-width="2.4"/>
<line x1="113.7" y1="885.8" x2="601.5" y2="885.8" stroke="#C2BFBB" stroke-width="2.4"/>
<rect x="121.96" y="1054.18" width="16.00" height="71.02" fill="#FF99FF" />
<rect x="154.48" y="1056.57" width="16.00" height="68.63" fill="#FF99FF" />
<rect x="187.00" y="1028.64" width="16.00" height="96.56" fill="#FF99FF" />
<rect x="219.52" y="981.56" width="16.00" height="143.64" fill="#FF99FF" />
<rect x="252.04" y="974.38" width="16.00" height="150.82" fill="#FF99FF" />
<rect x="284.56" y="934.48" width="16.00" height="190.72" fill="#FF99FF" />
<rect x="317.08" y="865.85" width="16.00" height="259.35" fill="#FF99FF" />
<rect x="349.60" y="917.72" width="16.00" height="207.48" fill="#FF99FF" />
<rect x="382.12" y="930.49" width="16.00" height="194.71" fill="#FF99FF" />
<rect x="414.64" y="817.17" width="16.00" height="308.03" fill="#FF99FF" />
<rect x="447.16" y="925.70" width="16.00" height="199.50" fill="#FF99FF" />
<rect x="479.68" y="967.99" width="16.00" height="157.21" fill="#FF99FF" />
<rect x="512.20" y="984.75" width="16.00" height="140.45" fill="#FF99FF" />
<rect x="544.72" y="1030.24" width="16.00" height="94.96" fill="#FF99FF" />
<rect x="577.24" y="990.34" width="16.00" height="134.86" fill="#FF99FF" />
<line x1="146.2" y1="1125.2" x2="146.2" y2="1121.2" stroke="#BDBDBD" stroke-width="1.2"/>
<line x1="178.7" y1="1125.2" x2="178.7" y2="1121.2" stroke="#BDBDBD" stroke-width="1.2"/>
<line x1="211.3" y1="1125.2" x2="211.3" y2="1121.2" stroke="#BDBDBD" stroke-width="1.2"/>
<line x1="243.8" y1="1125.2" x2="243.8" y2="1121.2" stroke="#BDBDBD" stroke-width="1.2"/>
<line x1="276.3" y1="1125.2" x2="276.3" y2="1121.2" stroke="#BDBDBD" stroke-width="1.2"/>
<line x1="308.8" y1="1125.2" x2="308.8" y2="1121.2" stroke="#BDBDBD" stroke-width="1.2"/>
<line x1="341.3" y1="1125.2" x2="341.3" y2="1121.2" stroke="#BDBDBD" stroke-width="1.2"/>
<line x1="373.9" y1="1125.2" x2="373.9" y2="1121.2" stroke="#BDBDBD" stroke-width="1.2"/>
<line x1="406.4" y1="1125.2" x2="406.4" y2="1121.2" stroke="#BDBDBD" stroke-width="1.2"/>
<line x1="438.9" y1="1125.2" x2="438.9" y2="1121.2" stroke="#BDBDBD" stroke-width="1.2"/>
<line x1="471.4" y1="1125.2" x2="471.4" y2="1121.2" stroke="#BDBDBD" stroke-width="1.2"/>
<line x1="503.9" y1="1125.2" x2="503.9" y2="1121.2" stroke="#BDBDBD" stroke-width="1.2"/>
<line x1="536.5" y1="1125.2" x2="536.5" y2="1121.2" stroke="#BDBDBD" stroke-width="1.2"/>
<line x1="569.0" y1="1125.2" x2="569.0" y2="1121.2" stroke="#BDBDBD" stroke-width="1.2"/>
<path d="M113.7,1125.2 L601.5,1125.2 L601.5,806.0 L113.7,806.0" fill="none" stroke="#000" stroke-width="4.6"/>
<line x1="113.7" y1="803.7" x2="113.7" y2="1127.5" stroke="#2A2A2A" stroke-width="4.6"/>
<text transform="translate(53.22,1135.90) scale(1.0875,1.0000)" text-anchor="start" font-size="34.5" font-weight="normal" font-style="normal" fill="#000" >0</text>
<text transform="translate(48.42,1056.10) scale(1.0875,1.0000)" text-anchor="start" font-size="34.5" font-weight="normal" font-style="normal" fill="#000" >1</text>
<text transform="translate(51.62,976.30) scale(1.0875,1.0000)" text-anchor="start" font-size="34.5" font-weight="normal" font-style="normal" fill="#000" >2</text>
<text transform="translate(52.42,896.50) scale(1.0875,1.0000)" text-anchor="start" font-size="34.5" font-weight="normal" font-style="normal" fill="#000" >3</text>
<text transform="translate(51.83,816.70) scale(1.0875,1.0000)" text-anchor="start" font-size="34.5" font-weight="normal" font-style="normal" fill="#000" >4</text>
<text transform="translate(140.01,1142.04) scale(1.1105,0.9609) rotate(-90)" text-anchor="end" font-size="28" font-weight="normal" font-style="normal" fill="#000" >#1</text>
<text transform="translate(172.53,1142.04) scale(1.1105,0.9609) rotate(-90)" text-anchor="end" font-size="28" font-weight="normal" font-style="normal" fill="#000" >#2</text>
<text transform="translate(205.05,1142.04) scale(1.1105,0.9609) rotate(-90)" text-anchor="end" font-size="28" font-weight="normal" font-style="normal" fill="#000" >#3</text>
<text transform="translate(237.57,1142.04) scale(1.1105,0.9609) rotate(-90)" text-anchor="end" font-size="28" font-weight="normal" font-style="normal" fill="#000" >#4</text>
<text transform="translate(270.09,1142.04) scale(1.1105,0.9609) rotate(-90)" text-anchor="end" font-size="28" font-weight="normal" font-style="normal" fill="#000" >#5</text>
<text transform="translate(302.61,1142.04) scale(1.1105,0.9609) rotate(-90)" text-anchor="end" font-size="28" font-weight="normal" font-style="normal" fill="#000" >#6</text>
<text transform="translate(335.13,1142.04) scale(1.1105,0.9609) rotate(-90)" text-anchor="end" font-size="28" font-weight="normal" font-style="normal" fill="#000" >#7</text>
<text transform="translate(367.65,1142.04) scale(1.1105,0.9609) rotate(-90)" text-anchor="end" font-size="28" font-weight="normal" font-style="normal" fill="#000" >#8</text>
<text transform="translate(400.17,1142.04) scale(1.1105,0.9609) rotate(-90)" text-anchor="end" font-size="28" font-weight="normal" font-style="normal" fill="#000" >#9</text>
<text transform="translate(432.69,1142.04) scale(1.1105,0.9609) rotate(-90)" text-anchor="end" font-size="28" font-weight="normal" font-style="normal" fill="#000" >#10</text>
<text transform="translate(465.21,1142.04) scale(1.1105,0.9609) rotate(-90)" text-anchor="end" font-size="28" font-weight="normal" font-style="normal" fill="#000" >#11</text>
<text transform="translate(497.73,1142.04) scale(1.1105,0.9609) rotate(-90)" text-anchor="end" font-size="28" font-weight="normal" font-style="normal" fill="#000" >#12</text>
<text transform="translate(530.25,1142.04) scale(1.1105,0.9609) rotate(-90)" text-anchor="end" font-size="28" font-weight="normal" font-style="normal" fill="#000" >#13</text>
<text transform="translate(562.77,1142.04) scale(1.1105,0.9609) rotate(-90)" text-anchor="end" font-size="28" font-weight="normal" font-style="normal" fill="#000" >#14</text>
<text transform="translate(595.29,1142.04) scale(1.1105,0.9609) rotate(-90)" text-anchor="end" font-size="28" font-weight="normal" font-style="normal" fill="#000" >#15</text>
<text transform="translate(125.18,863.05) scale(1.0411,1.0152)" text-anchor="start" font-size="50" font-weight="bold" font-style="normal" fill="#000" >(c)</text>
<text transform="translate(34.04,1073.36) scale(1.1367,1.1609) rotate(-90)" text-anchor="start" font-size="31" font-weight="normal" font-style="normal" fill="#000" >dR/dP (&#937;/kPa)</text>
<line x1="740.5" y1="1045.4" x2="1228.5" y2="1045.4" stroke="#C2BFBB" stroke-width="2.4"/>
<line x1="740.5" y1="965.6" x2="1228.5" y2="965.6" stroke="#C2BFBB" stroke-width="2.4"/>
<line x1="740.5" y1="885.8" x2="1228.5" y2="885.8" stroke="#C2BFBB" stroke-width="2.4"/>
<rect x="748.77" y="904.15" width="16.00" height="221.05" fill="#558ED5" />
<rect x="781.30" y="936.87" width="16.00" height="188.33" fill="#558ED5" />
<rect x="813.83" y="889.79" width="16.00" height="235.41" fill="#558ED5" />
<rect x="846.37" y="860.26" width="16.00" height="264.94" fill="#558ED5" />
<rect x="878.90" y="865.85" width="16.00" height="259.35" fill="#558ED5" />
<rect x="911.43" y="873.03" width="16.00" height="252.17" fill="#558ED5" />
<rect x="943.97" y="878.62" width="16.00" height="246.58" fill="#558ED5" />
<rect x="976.50" y="900.16" width="16.00" height="225.04" fill="#558ED5" />
<rect x="1009.03" y="853.88" width="16.00" height="271.32" fill="#558ED5" />
<rect x="1041.57" y="885.00" width="16.00" height="240.20" fill="#558ED5" />
<rect x="1074.10" y="860.26" width="16.00" height="264.94" fill="#558ED5" />
<rect x="1106.63" y="869.84" width="16.00" height="255.36" fill="#558ED5" />
<rect x="1139.17" y="885.00" width="16.00" height="240.20" fill="#558ED5" />
<rect x="1171.70" y="865.85" width="16.00" height="259.35" fill="#558ED5" />
<rect x="1204.23" y="924.10" width="16.00" height="201.10" fill="#558ED5" />
<line x1="773.0" y1="1125.2" x2="773.0" y2="1121.2" stroke="#BDBDBD" stroke-width="1.2"/>
<line x1="805.6" y1="1125.2" x2="805.6" y2="1121.2" stroke="#BDBDBD" stroke-width="1.2"/>
<line x1="838.1" y1="1125.2" x2="838.1" y2="1121.2" stroke="#BDBDBD" stroke-width="1.2"/>
<line x1="870.6" y1="1125.2" x2="870.6" y2="1121.2" stroke="#BDBDBD" stroke-width="1.2"/>
<line x1="903.2" y1="1125.2" x2="903.2" y2="1121.2" stroke="#BDBDBD" stroke-width="1.2"/>
<line x1="935.7" y1="1125.2" x2="935.7" y2="1121.2" stroke="#BDBDBD" stroke-width="1.2"/>
<line x1="968.2" y1="1125.2" x2="968.2" y2="1121.2" stroke="#BDBDBD" stroke-width="1.2"/>
<line x1="1000.8" y1="1125.2" x2="1000.8" y2="1121.2" stroke="#BDBDBD" stroke-width="1.2"/>
<line x1="1033.3" y1="1125.2" x2="1033.3" y2="1121.2" stroke="#BDBDBD" stroke-width="1.2"/>
<line x1="1065.8" y1="1125.2" x2="1065.8" y2="1121.2" stroke="#BDBDBD" stroke-width="1.2"/>
<line x1="1098.4" y1="1125.2" x2="1098.4" y2="1121.2" stroke="#BDBDBD" stroke-width="1.2"/>
<line x1="1130.9" y1="1125.2" x2="1130.9" y2="1121.2" stroke="#BDBDBD" stroke-width="1.2"/>
<line x1="1163.4" y1="1125.2" x2="1163.4" y2="1121.2" stroke="#BDBDBD" stroke-width="1.2"/>
<line x1="1196.0" y1="1125.2" x2="1196.0" y2="1121.2" stroke="#BDBDBD" stroke-width="1.2"/>
<path d="M740.5,1125.2 L1228.5,1125.2 L1228.5,806.0 L740.5,806.0" fill="none" stroke="#000" stroke-width="4.6"/>
<line x1="740.5" y1="803.7" x2="740.5" y2="1127.5" stroke="#2A2A2A" stroke-width="4.6"/>
<text transform="translate(678.46,1135.90) scale(1.0875,1.0000)" text-anchor="start" font-size="34.5" font-weight="normal" font-style="normal" fill="#000" >0</text>
<text transform="translate(673.66,1056.10) scale(1.0875,1.0000)" text-anchor="start" font-size="34.5" font-weight="normal" font-style="normal" fill="#000" >1</text>
<text transform="translate(676.86,976.30) scale(1.0875,1.0000)" text-anchor="start" font-size="34.5" font-weight="normal" font-style="normal" fill="#000" >2</text>
<text transform="translate(677.66,896.50) scale(1.0875,1.0000)" text-anchor="start" font-size="34.5" font-weight="normal" font-style="normal" fill="#000" >3</text>
<text transform="translate(677.06,816.70) scale(1.0875,1.0000)" text-anchor="start" font-size="34.5" font-weight="normal" font-style="normal" fill="#000" >4</text>
<text transform="translate(766.82,1142.04) scale(1.1105,0.9609) rotate(-90)" text-anchor="end" font-size="28" font-weight="normal" font-style="normal" fill="#000" >#1</text>
<text transform="translate(799.35,1142.04) scale(1.1105,0.9609) rotate(-90)" text-anchor="end" font-size="28" font-weight="normal" font-style="normal" fill="#000" >#2</text>
<text transform="translate(831.88,1142.04) scale(1.1105,0.9609) rotate(-90)" text-anchor="end" font-size="28" font-weight="normal" font-style="normal" fill="#000" >#3</text>
<text transform="translate(864.42,1142.04) scale(1.1105,0.9609) rotate(-90)" text-anchor="end" font-size="28" font-weight="normal" font-style="normal" fill="#000" >#4</text>
<text transform="translate(896.95,1142.04) scale(1.1105,0.9609) rotate(-90)" text-anchor="end" font-size="28" font-weight="normal" font-style="normal" fill="#000" >#5</text>
<text transform="translate(929.48,1142.04) scale(1.1105,0.9609) rotate(-90)" text-anchor="end" font-size="28" font-weight="normal" font-style="normal" fill="#000" >#6</text>
<text transform="translate(962.02,1142.04) scale(1.1105,0.9609) rotate(-90)" text-anchor="end" font-size="28" font-weight="normal" font-style="normal" fill="#000" >#7</text>
<text transform="translate(994.55,1142.04) scale(1.1105,0.9609) rotate(-90)" text-anchor="end" font-size="28" font-weight="normal" font-style="normal" fill="#000" >#8</text>
<text transform="translate(1027.08,1142.04) scale(1.1105,0.9609) rotate(-90)" text-anchor="end" font-size="28" font-weight="normal" font-style="normal" fill="#000" >#9</text>
<text transform="translate(1059.62,1142.04) scale(1.1105,0.9609) rotate(-90)" text-anchor="end" font-size="28" font-weight="normal" font-style="normal" fill="#000" >#10</text>
<text transform="translate(1092.15,1142.04) scale(1.1105,0.9609) rotate(-90)" text-anchor="end" font-size="28" font-weight="normal" font-style="normal" fill="#000" >#11</text>
<text transform="translate(1124.68,1142.04) scale(1.1105,0.9609) rotate(-90)" text-anchor="end" font-size="28" font-weight="normal" font-style="normal" fill="#000" >#12</text>
<text transform="translate(1157.22,1142.04) scale(1.1105,0.9609) rotate(-90)" text-anchor="end" font-size="28" font-weight="normal" font-style="normal" fill="#000" >#13</text>
<text transform="translate(1189.75,1142.04) scale(1.1105,0.9609) rotate(-90)" text-anchor="end" font-size="28" font-weight="normal" font-style="normal" fill="#000" >#14</text>
<text transform="translate(1222.28,1142.04) scale(1.1105,0.9609) rotate(-90)" text-anchor="end" font-size="28" font-weight="normal" font-style="normal" fill="#000" >#15</text>
<text transform="translate(754.86,861.02) scale(1.0466,1.0283)" text-anchor="start" font-size="50" font-weight="bold" font-style="normal" fill="#000" >(d)</text>
<text transform="translate(660.84,1073.36) scale(1.1367,1.1609) rotate(-90)" text-anchor="start" font-size="31" font-weight="normal" font-style="normal" fill="#000" >dR/dP (&#937;/kPa)</text>
<line x1="844" y1="1509.1" x2="851" y2="1509.1" stroke="#555" stroke-width="1.5"/>
<line x1="844" y1="1453.7" x2="851" y2="1453.7" stroke="#555" stroke-width="1.5"/>
<line x1="844" y1="1398.3" x2="851" y2="1398.3" stroke="#555" stroke-width="1.5"/>
<line x1="844" y1="1342.9" x2="851" y2="1342.9" stroke="#555" stroke-width="1.5"/>
<line x1="844" y1="1287.5" x2="851" y2="1287.5" stroke="#555" stroke-width="1.5"/>
<line x1="966.8" y1="1563" x2="966.8" y2="1556" stroke="#555" stroke-width="1.5"/>
<line x1="1089.0" y1="1563" x2="1089.0" y2="1556" stroke="#555" stroke-width="1.5"/>
<path d="M844.5,1232 L1211,1232 L1211,1563.5" fill="none" stroke="#000" stroke-width="3.4"/>
<path d="M844.5,1232 L844.5,1563.5 L1211,1563.5" fill="none" stroke="#484848" stroke-width="3.4"/>
<polyline points="869.0,1546.5 917.9,1503.7 966.8,1470.4 1015.6,1426.0 1064.5,1387.6 1113.5,1356.9 1162.3,1326.2 1211.2,1292.1" fill="none" stroke="#3C72B8" stroke-width="3.2"/>
<rect x="857.45" y="1535.30" width="23.00" height="22.40" fill="#0068C4" />
<rect x="906.35" y="1492.50" width="23.00" height="22.40" fill="#0068C4" />
<rect x="955.25" y="1459.20" width="23.00" height="22.40" fill="#0068C4" />
<rect x="1004.15" y="1414.80" width="23.00" height="22.40" fill="#0068C4" />
<rect x="1053.05" y="1376.40" width="23.00" height="22.40" fill="#0068C4" />
<rect x="1101.95" y="1345.70" width="23.00" height="22.40" fill="#0068C4" />
<rect x="1150.85" y="1315.00" width="23.00" height="22.40" fill="#0068C4" />
<rect x="1199.75" y="1280.90" width="23.00" height="22.40" fill="#0068C4" />
<polyline points="869.0,1548.0 917.9,1517.4 966.8,1487.7 1015.6,1460.3 1064.5,1438.5 1113.5,1425.5 1162.3,1408.3 1211.2,1392.4" fill="none" stroke="#FF88FF" stroke-width="3.2"/>
<circle cx="869.0" cy="1548.0" r="11.3" fill="#FF99FF"/>
<circle cx="917.9" cy="1517.4" r="11.3" fill="#FF99FF"/>
<circle cx="966.8" cy="1487.7" r="11.3" fill="#FF99FF"/>
<circle cx="1015.6" cy="1460.3" r="11.3" fill="#FF99FF"/>
<circle cx="1064.5" cy="1438.5" r="11.3" fill="#FF99FF"/>
<circle cx="1113.5" cy="1425.5" r="11.3" fill="#FF99FF"/>
<circle cx="1162.3" cy="1408.3" r="11.3" fill="#FF99FF"/>
<circle cx="1211.2" cy="1392.4" r="11.3" fill="#FF99FF"/>
<text transform="translate(798.20,1572.90) scale(1.0286,1.0211)" text-anchor="start" font-size="27" font-weight="normal" font-style="normal" fill="#000" >0</text>
<text transform="translate(782.77,1517.50) scale(1.0286,1.0211)" text-anchor="start" font-size="27" font-weight="normal" font-style="normal" fill="#000" >10</text>
<text transform="translate(782.77,1462.10) scale(1.0286,1.0211)" text-anchor="start" font-size="27" font-weight="normal" font-style="normal" fill="#000" >20</text>
<text transform="translate(782.77,1406.70) scale(1.0286,1.0211)" text-anchor="start" font-size="27" font-weight="normal" font-style="normal" fill="#000" >30</text>
<text transform="translate(782.77,1351.30) scale(1.0286,1.0211)" text-anchor="start" font-size="27" font-weight="normal" font-style="normal" fill="#000" >40</text>
<text transform="translate(782.77,1295.90) scale(1.0286,1.0211)" text-anchor="start" font-size="27" font-weight="normal" font-style="normal" fill="#000" >50</text>
<text transform="translate(782.77,1240.50) scale(1.0286,1.0211)" text-anchor="start" font-size="27" font-weight="normal" font-style="normal" fill="#000" >60</text>
<text transform="translate(834.59,1606.60) scale(1.0286,1.0211)" text-anchor="start" font-size="27" font-weight="normal" font-style="normal" fill="#000" >0</text>
<text transform="translate(956.49,1606.60) scale(1.0286,1.0211)" text-anchor="start" font-size="27" font-weight="normal" font-style="normal" fill="#000" >5</text>
<text transform="translate(1069.76,1606.60) scale(1.0286,1.0211)" text-anchor="start" font-size="27" font-weight="normal" font-style="normal" fill="#000" >10</text>
<text transform="translate(1191.56,1606.60) scale(1.0286,1.0211)" text-anchor="start" font-size="27" font-weight="normal" font-style="normal" fill="#000" >15</text>
<text transform="translate(1017.77,1637.60) scale(1.0316,0.9053)" text-anchor="start" font-size="27" font-weight="normal" font-style="italic" fill="#000" >N</text>
<text transform="translate(859.18,1295.91) scale(1.0727,1.0087)" text-anchor="start" font-size="50" font-weight="bold" font-style="normal" fill="#000" >(f)</text>
<text transform="translate(773.22,1485.85) scale(1.1167,1.0545) rotate(-90)" text-anchor="start" font-size="26" font-weight="normal" font-style="normal" fill="#000" >dR/dP (&#937;/kPa)</text>
<polygon points="13.0,1423.0 89.6,1423.0 89.6,1410.2 171.4,1410.2 171.4,1448.7 40.3,1448.7 40.3,1595.3 485.8,1595.3 485.8,1530.2 548.1,1530.2 548.1,1557.1 513.7,1557.1 513.7,1624.3 13.0,1624.3" fill="#595959" />
<polygon points="357.9,1410.2 439.9,1410.2 439.9,1423.3 513.7,1423.3 513.7,1466.9 548.1,1466.9 548.1,1491.5 485.8,1491.5 485.8,1449.5 357.9,1449.5" fill="#595959" />
<rect x="112.00" y="1410.00" width="37.80" height="11.40" fill="#fff" />
<rect x="379.20" y="1410.00" width="39.40" height="12.60" fill="#fff" />
<ellipse cx="131" cy="1410.2" rx="17.5" ry="12.6" fill="#000"/>
<ellipse cx="398.4" cy="1411.2" rx="17.6" ry="13" fill="#000"/>
<rect x="96.60" y="1373.30" width="151.20" height="23.70" fill="#92D050" />
<rect x="281.30" y="1372.50" width="150.60" height="24.30" fill="#92D050" />
<rect x="214.20" y="1368.20" width="32.20" height="5.80" fill="#C00000" />
<rect x="281.40" y="1368.20" width="32.20" height="5.80" fill="#C00000" />
<rect x="221.20" y="1355.60" width="25.00" height="9.80" fill="#F2F2F2" />
<rect x="281.40" y="1355.60" width="25.20" height="9.80" fill="#F2F2F2" />
<rect x="221.20" y="1345.00" width="86.30" height="7.80" fill="#00B0F0" />
<rect x="224.00" y="1340.20" width="22.40" height="4.50" fill="#FFC000" />
<rect x="246.40" y="1340.60" width="5.00" height="3.80" fill="#FF00FF" />
<rect x="100.30" y="1340.20" width="29.90" height="31.70" fill="#3C64B4" />
<rect x="130.20" y="1365.40" width="67.20" height="7.50" fill="#FFC000" />
<path d="M19.6,1331.8 C35,1331 42,1332 52,1342 C62,1354 70,1369 88,1369.6 L100.3,1369.6" fill="none" stroke="#FFC000" stroke-width="3.6"/>
<path d="M189.5,1366 C190,1345 198,1333 210,1333 C218,1333 222,1337 225,1342" fill="none" stroke="#FFC000" stroke-width="3.2"/>
<path d="M156.8,1303.8 L166.6,1379.4 M310.8,1301 L274.4,1345.3 M398.8,1334.2 L319.2,1370.2" stroke="#000" stroke-width="2.2" fill="none"/>
<circle cx="166.6" cy="1379.4" r="3.6" fill="#000"/>
<circle cx="274.4" cy="1345.3" r="3.6" fill="#000"/>
<circle cx="319.2" cy="1370.2" r="3.6" fill="#000"/>
<path d="M263.5,1478 L263.5,1366" stroke="#FF0000" stroke-width="3.6" fill="none"/>
<path d="M250,1387.5 L263.5,1364 L277,1387.5" stroke="#FF0000" stroke-width="3.8" fill="none" stroke-linejoin="miter"/>
<path d="M564.5,1509.5 L451,1509.5" stroke="#FF0000" stroke-width="3.6" fill="none"/>
<path d="M472,1497 L449.5,1509.5 L472,1522" stroke="#FF0000" stroke-width="3.8" fill="none"/>
<clipPath id="clipE"><rect x="100" y="1224.5" width="260" height="40"/></clipPath>
<g clip-path="url(#clipE)">
<text transform="translate(108.61,1239.40) scale(1.1308,1.0000)" text-anchor="start" font-size="32" font-weight="normal" font-style="normal" fill="#1A1A1A" >Printed circuit</text>
</g>
<text transform="translate(109.74,1283.40) scale(1.1308,1.0000)" text-anchor="start" font-size="32" font-weight="normal" font-style="normal" fill="#1A1A1A" >board</text>
<text transform="translate(286.69,1294.57) scale(1.1558,0.9900)" text-anchor="start" font-size="31.3" font-weight="normal" font-style="normal" fill="#1A1A1A" >Spin-MEMS sensor</text>
<text transform="translate(410.00,1341.80) scale(1.0985,1.0348)" text-anchor="start" font-size="32" font-weight="normal" font-style="normal" fill="#1A1A1A" >Adhesive</text>
<text transform="translate(458.14,1386.00) scale(1.1284,1.0696)" text-anchor="start" font-size="32" font-weight="normal" font-style="normal" fill="#1A1A1A" >bond</text>
<text transform="translate(142.00,1521.60) scale(1.0816,1.0000)" text-anchor="start" font-size="33.5" font-weight="normal" font-style="normal" fill="#FF0000" >Applied pressure</text>
<text transform="translate(572.59,1511.20) scale(1.1371,1.0455)" text-anchor="start" font-size="32" font-weight="normal" font-style="normal" fill="#1A1A1A" >Pressure</text>
<text transform="translate(574.20,1553.61) scale(1.0985,1.0556)" text-anchor="start" font-size="32" font-weight="normal" font-style="normal" fill="#1A1A1A" >generator</text>
<text transform="translate(47.43,1585.60) scale(1.1225,1.0435)" text-anchor="start" font-size="32" font-weight="normal" font-style="normal" fill="#1A1A1A" >Pressure chamber</text>
<text transform="translate(1.82,1265.76) scale(1.0607,1.0043)" text-anchor="start" font-size="50" font-weight="bold" font-style="normal" fill="#000" >(e)</text>
</svg></body></html>
